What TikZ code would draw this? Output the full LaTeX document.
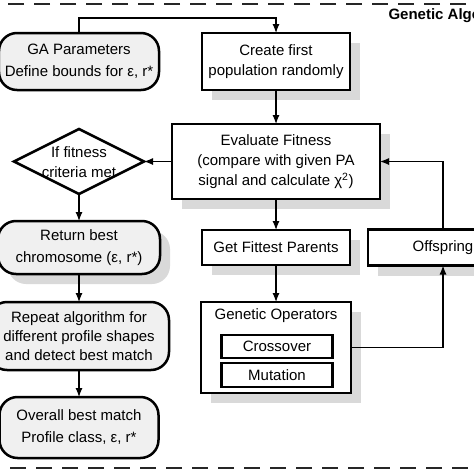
\documentclass[tikz,border=0pt]{standalone}
\usepackage{fontspec}
\setsansfont{Liberation Sans}
\usepackage{tikz}
\usetikzlibrary{positioning}
\usetikzlibrary{arrows.meta}
\usetikzlibrary{shapes.geometric}
\usetikzlibrary{shadows}

\begin{document}
\begin{tikzpicture}[x=1pt,y=1pt,>={Latex[length=9pt,width=7pt]},
	font=\sffamily\fontsize{15}{20}\selectfont,
	box/.style={rectangle,draw=black,line width=2.8pt,fill=white,outer sep=0pt,inner sep=2pt,align=center},
	shade/.style={drop shadow={shadow xshift=10pt,shadow yshift=-10pt,fill=black!15,opacity=1}},
	roundbox/.style={box,rounded corners=18pt,fill=black!6,line width=2.5pt,font=\sffamily\fontsize{15}{22}\selectfont},
	decision/.style={diamond,draw=black,line width=2.5pt,fill=white,outer sep=0pt,inner sep=0pt},
	link/.style={->,line width=1.2pt}]
	\clip (0,0) rectangle (474,-474);
	% outer frame of the GA block
	\draw[line width=2.5pt,dash pattern=on 16pt off 10pt,black!85] (-20,-4) rectangle (500,-468);
	\node[anchor=west,font=\sffamily\bfseries\fontsize{15}{18}\selectfont] (ga_title) at (385,-16) {Genetic Algorithm};

	% main loop
	\node[box,shade,minimum width=148pt,minimum height=57pt] (create) at (276,-61.5) {Create first\\population randomly};
	\node[box,shade,minimum width=208pt,minimum height=75pt,below=34pt of create] (eval) {Evaluate Fitness\\(compare with given PA\\signal and calculate χ\textsuperscript{2})};
	\node[box,shade,minimum width=148pt,minimum height=35pt,below=31pt of eval] (parents) {Get Fittest Parents};
	\node[box,shade,minimum width=150pt,minimum height=36pt,right=18pt of parents] (offspring) {Offspring};
	\node[box,shade,minimum width=150pt,minimum height=91pt,below=37pt of parents] (ops) {};
	\node[below=6pt of ops.north,inner sep=0pt] (ops_title) {Genetic Operators};
	\node[box,line width=2.5pt,minimum width=111pt,minimum height=23pt] (cross) at ([xshift=1pt,yshift=1pt]ops.center) {Crossover};
	\node[box,line width=2.5pt,minimum width=111pt,minimum height=24pt,below=5pt of cross] (mut) {Mutation};

	% left column
	\node[roundbox,minimum width=160pt,minimum height=57pt] (ga) at (79,-61.5) {GA Parameters\\Define bounds for ε, r*};
	\node[decision,minimum width=130pt,minimum height=65pt] (fit) at (ga |- eval) {};
	\node[align=center] (fit_text) at ([yshift=-1pt]fit.center) {If fitness\\criteria met};
	\node[roundbox,shade,minimum width=162pt,minimum height=53pt,below=27pt of fit] (ret) {Return best\\chromosome (ε, r*)};
	\node[roundbox,font=\sffamily\fontsize{15}{19}\selectfont,minimum width=180pt,minimum height=68pt,below=28pt of ret] (rep) {Repeat algorithm for\\different profile shapes\\and detect best match};
	\node[roundbox,minimum width=159pt,minimum height=61pt,below=27pt of rep] (best) {Overall best match\\Profile class, ε, r*};

	\draw[link] (ga.north) -- ++(0,15) -| (create.north);
	\draw[link] (create) -- (eval);
	\draw[link] (eval) -- (fit);
	\draw[link] (fit) -- (ret);
	\draw[link] (ret) -- (rep);
	\draw[link] (rep) -- (best);
	\draw[link] (eval) -- (parents);
	\draw[link] (parents) -- (ops);
	\draw[link] (ops.east) -| (offspring.south);
	\draw[link] (offspring.north) |- (eval.east);
\end{tikzpicture}
\end{document}
